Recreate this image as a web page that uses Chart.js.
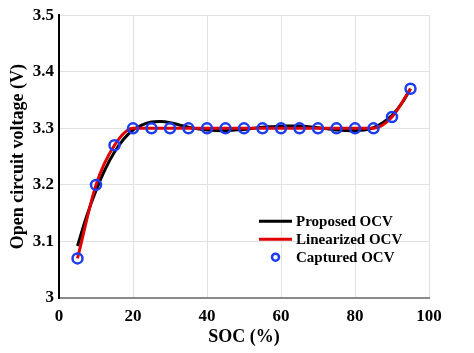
<!DOCTYPE html>
<html>
<head>
<meta charset="utf-8">
<script src="https://cdn.jsdelivr.net/npm/chart.js@4"></script>
<style>
  html, body { margin: 0; padding: 0; background: #fff; }
  #wrap { width: 474px; height: 353px; }
</style>
</head>
<body>
<div id="wrap"><canvas id="ocvChart" width="474" height="353"></canvas></div>
<script>
// captured OCV points
const soc = [5, 10, 15, 20, 25, 30, 35, 40, 45, 50, 55, 60, 65, 70, 75, 80, 85, 90, 95];
const captured = [3.07, 3.20, 3.27, 3.30, 3.30, 3.30, 3.30, 3.30, 3.30, 3.30, 3.30, 3.30, 3.30, 3.30, 3.30, 3.30, 3.30, 3.32, 3.37];

// proposed OCV curve
const socFine = [5, 7.5, 10, 12.5, 15, 17.5, 20, 22.5, 25, 27.5, 30, 32.5, 35, 37.5, 40, 42.5, 45, 47.5, 50,
  52.5, 55, 57.5, 60, 62.5, 65, 67.5, 70, 72.5, 75, 77.5, 80, 82.5, 85, 87.5, 90, 92.5, 95];
const proposed = [3.092, 3.145, 3.190, 3.228, 3.258, 3.281, 3.297, 3.306, 3.311, 3.312, 3.310, 3.306, 3.302, 3.299, 3.297, 3.296, 3.296, 3.297, 3.298,
  3.300, 3.302, 3.303, 3.304, 3.304, 3.304, 3.303, 3.301, 3.299, 3.297, 3.296, 3.296, 3.297, 3.301, 3.310, 3.323, 3.343, 3.370];

const xTicks = [0, 20, 40, 60, 80, 100];
const yTicks = [3, 3.1, 3.2, 3.3, 3.4, 3.5];

const serif = "'Liberation Serif', 'Times New Roman', serif";

const toPoints = (xs, ys) => xs.map((x, i) => ({ x: x, y: ys[i] }));

// legend drawn inside the plot, like the matlab one
const insideLegend = {
  id: 'insideLegend',
  afterDraw(chart) {
    const ctx = chart.ctx;
    const a = chart.chartArea;
    const x0 = a.left + 200, x1 = a.left + 233, tx = a.left + 237;
    const rows = [a.top + 206, a.top + 224, a.top + 242];
    ctx.save();
    ctx.font = "bold 15px " + serif;
    ctx.textBaseline = 'middle';
    ctx.fillStyle = '#000';
    chart.data.datasets.forEach((ds, i) => {
      const y = rows[i];
      if (ds.showLine) {
        ctx.strokeStyle = ds.borderColor;
        ctx.lineWidth = ds.borderWidth;
        ctx.beginPath();
        ctx.moveTo(x0, y);
        ctx.lineTo(x1, y);
        ctx.stroke();
      } else {
        ctx.strokeStyle = ds.borderColor;
        ctx.lineWidth = 2.5;
        ctx.beginPath();
        ctx.arc((x0 + x1) / 2, y, 3.5, 0, Math.PI * 2);
        ctx.stroke();
      }
      ctx.fillText(ds.label, tx, y + 1);
    });
    ctx.restore();
  }
};

const ctx = document.getElementById('ocvChart').getContext('2d');
const myChart = new Chart(ctx, {
  type: 'scatter',
  data: {
    datasets: [{
      label: 'Proposed OCV',
      data: toPoints(socFine, proposed),
      showLine: true,
      borderColor: '#000000',
      borderWidth: 3,
      pointRadius: 0,
      tension: 0.4,
      order: 3
    }, {
      label: 'Linearized OCV',
      data: toPoints(soc, captured),
      showLine: true,
      borderColor: '#e00000',
      borderWidth: 3,
      pointRadius: 0,
      cubicInterpolationMode: 'monotone',
      order: 2
    }, {
      label: 'Captured OCV',
      data: toPoints(soc, captured),
      showLine: false,
      borderColor: '#1e3cf0',
      backgroundColor: 'rgba(0,0,0,0)',
      borderWidth: 2.5,
      pointRadius: 5,
      order: 1
    }]
  },
  plugins: [insideLegend],
  options: {
    responsive: false,
    animation: false,
    layout: { padding: { left: 0, top: 15, right: 45, bottom: 0 } },
    plugins: {
      legend: { display: false },
      tooltip: { enabled: false }
    },
    scales: {
      x: {
        type: 'linear',
        min: 0,
        max: 100,
        afterFit: (s) => { s.height = 55; },
        afterBuildTicks: (s) => { s.ticks = xTicks.map(v => ({ value: v })); },
        ticks: {
          padding: 8,
          color: '#000',
          font: { family: serif, size: 17, weight: 'bold' }
        },
        grid: { color: '#e2e2e2', lineWidth: 1, drawTicks: false },
        border: { color: '#8a8a8a', width: 2 },
        title: {
          display: true,
          text: 'SOC (%)',
          color: '#000',
          padding: { top: 0, bottom: 5 },
          font: { family: serif, size: 18, weight: 'bold' }
        }
      },
      y: {
        type: 'linear',
        min: 3,
        max: 3.5,
        afterFit: (s) => { s.width = 59; },
        afterBuildTicks: (s) => { s.ticks = yTicks.map(v => ({ value: v })); },
        ticks: {
          padding: 5,
          color: '#000',
          font: { family: serif, size: 17, weight: 'bold' },
          callback: (v) => String(Math.round(v * 10) / 10)
        },
        grid: { color: '#e2e2e2', lineWidth: 1, drawTicks: false },
        border: { color: '#000', width: 2 },
        title: {
          display: true,
          text: 'Open circuit voltage (V)',
          color: '#000',
          padding: { top: 8, bottom: 0 },
          font: { family: serif, size: 18, weight: 'bold' }
        }
      }
    }
  }
});
</script>
</body>
</html>
